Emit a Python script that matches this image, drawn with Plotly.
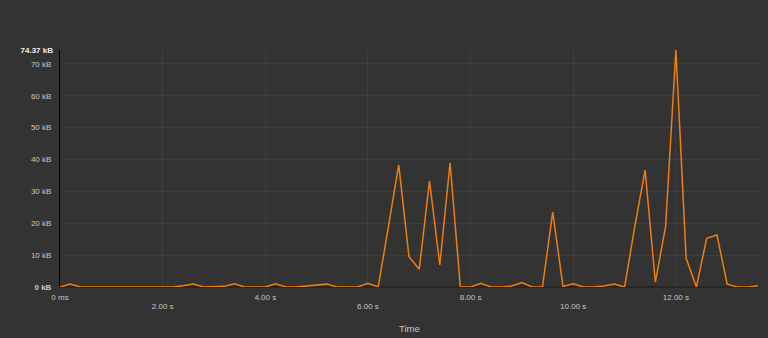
import plotly.graph_objects as go

# time in seconds (sample every 0.2 s)
step = 0.2
values_kb = [
    0, 0.9, 0, 0, 0, 0, 0, 0, 0, 0,
    0, 0, 0.4, 0.9, 0, 0, 0.2, 1.0, 0, 0,
    0, 1.0, 0, 0, 0.3, 0.6, 0.9, 0, 0, 0,
    1.2, 0, 19.0, 38.3, 9.5, 5.6, 33.3, 6.9, 39.0, 0,
    0, 1.2, 0, 0, 0.3, 1.4, 0, 0, 23.5, 0.2,
    1.0, 0, 0, 0.3, 0.9, 0, 19.0, 36.7, 1.5, 19.0,
    74.37, 9.0, 0, 15.3, 16.3, 0.9, 0, 0, 0.4,
]
times_s = [round(i * step, 1) for i in range(len(values_kb))]

x_ticks_row1 = [0, 4, 8, 12]
x_labels_row1 = ["0 ms", "4.00 s", "8.00 s", "12.00 s"]
x_ticks_row2 = [2, 6, 10]
x_labels_row2 = ["2.00 s", "6.00 s", "10.00 s"]
y_ticks = [0, 10, 20, 30, 40, 50, 60, 70]
y_labels = ["<b>0 kB</b>", "10 kB", "20 kB", "30 kB", "40 kB", "50 kB", "60 kB", "70 kB"]
y_max = 74.37
y_max_label = "<b>74.37 kB</b>"

BG = "#333333"
GRID = "#3d3d3d"
TXT = "#c8c8c8"
FONT = "Liberation Sans, Arial, sans-serif"
x_range = [0, times_s[-1]]

fig = go.Figure()
fig.add_trace(go.Scatter(
    x=times_s, y=values_kb, mode="lines",
    line=dict(color="#f07d10", width=1.5),
    hoverinfo="skip", showlegend=False,
))
# invisible trace for secondary axes
fig.add_trace(go.Scatter(x=[0], y=[0], xaxis="x2", yaxis="y2", mode="lines",
                         line=dict(width=0), showlegend=False, hoverinfo="skip"))

fig.update_layout(
    width=768, height=338,
    margin=dict(l=60, r=10, t=50, b=51),
    paper_bgcolor=BG, plot_bgcolor=BG,
    font=dict(family=FONT, size=8, color=TXT),
    xaxis=dict(
        range=x_range, tickvals=x_ticks_row1, ticktext=x_labels_row1,
        showgrid=True, gridcolor=GRID, gridwidth=1, zeroline=False,
        ticks="", ticklabelstandoff=4, showline=False,
        tickfont=dict(size=8, color=TXT), fixedrange=True,
    ),
    xaxis2=dict(
        range=x_range, overlaying="x", side="bottom", anchor="y",
        tickvals=x_ticks_row2, ticktext=x_labels_row2,
        showgrid=True, gridcolor=GRID, gridwidth=1, zeroline=False,
        ticks="", ticklabelstandoff=13, showline=False,
        tickfont=dict(size=8, color=TXT),
    ),
    yaxis=dict(
        range=[0, y_max], tickvals=y_ticks, ticktext=y_labels,
        showgrid=True, gridcolor=GRID, gridwidth=1,
        zeroline=True, zerolinecolor="#262626", zerolinewidth=2,
        showline=True, linecolor="#000000", linewidth=1,
        ticks="", ticklabelstandoff=6,
        tickfont=dict(size=8, color=TXT),
    ),
    yaxis2=dict(
        range=[0, y_max], overlaying="y", side="left", anchor="x",
        tickvals=[y_max], ticktext=[y_max_label],
        showgrid=False, zeroline=False, showline=False,
        ticks="", ticklabelstandoff=6,
        tickfont=dict(size=8, color="#eeeeee"),
    ),
    annotations=[dict(
        text="Time", xref="paper", yref="paper", x=0.5, y=-0.173,
        xanchor="center", yanchor="middle", showarrow=False,
        font=dict(family=FONT, size=9.5, color=TXT),
    )],
)

fig.write_html("out.html")
